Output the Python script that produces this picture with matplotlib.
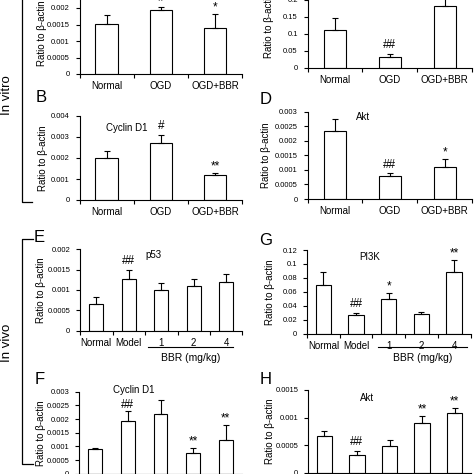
import matplotlib
matplotlib.use("Agg")
import matplotlib.pyplot as plt
import matplotlib.transforms as mtransforms
from matplotlib.lines import Line2D
from matplotlib.ticker import FormatStrFormatter
import numpy as np

plt.rcParams['font.family'] = ['Liberation Sans', 'DejaVu Sans']

# groups
vitro_groups = ["Normal", "OGD", "OGD+BBR"]
vivo_groups = ["Normal", "Model", "1", "2", "4"]

# in vitro (ratio to beta-actin), mean and upper error
a_mean = [0.00153, 0.00194, 0.00139]
a_err = [0.00025, 0.00010, 0.00043]
a_marks = ["", "#", "*"]

b_mean = [0.00199, 0.00273, 0.00119]
b_err = [0.00034, 0.00037, 0.00010]
b_marks = ["", "#", "**"]

c_mean = [0.111, 0.033, 0.181]
c_err = [0.034, 0.008, 0.035]
c_marks = ["", "##", ""]

d_mean = [0.00235, 0.00079, 0.00111]
d_err = [0.00039, 0.00009, 0.00026]
d_marks = ["", "##", "*"]

# in vivo
e_mean = [0.00066, 0.00127, 0.00100, 0.00111, 0.00119]
e_err = [0.00018, 0.00022, 0.00016, 0.00015, 0.00020]
e_marks = ["", "##", "", "", ""]

g_mean = [0.070, 0.027, 0.0496, 0.029, 0.088]
g_err = [0.018, 0.003, 0.009, 0.002, 0.018]
g_marks = ["", "##", "*", "", "**"]

f_mean = [0.00089, 0.00193, 0.00217, 0.00077, 0.00123]
f_err = [0.00004, 0.00038, 0.00053, 0.00018, 0.00055]
f_marks = ["", "##", "", "**", "**"]

h_mean = [0.000665, 0.00032, 0.00049, 0.000895, 0.00108]
h_err = [0.00009, 0.00007, 0.00011, 0.00013, 0.00010]
h_marks = ["", "##", "", "**", "**"]

W = 474
H = 474
fig = plt.figure(figsize=(W / 100, H / 100), dpi=100)
fig.patch.set_facecolor("white")


def px_axes(left, right, bottom, top):
    return fig.add_axes([left / W, 1 - bottom / H, (right - left) / W, (bottom - top) / H])


def ftext(x, y, s, **kw):
    fig.text(x / W, 1 - y / H, s, **kw)


def fline(xs, ys):
    fig.add_artist(Line2D([x / W for x in xs], [1 - y / H for y in ys],
                          color="black", lw=0.9))


def panel(ax, groups, mean, err, marks, ymax, ystep, width, title=None, title_pos=None,
          bbr=None, hash_off=2):
    n = len(groups)
    x = np.arange(n)
    ax.bar(x, mean, width, color="white", edgecolor="black", linewidth=0.8,
           yerr=[np.zeros(n), err],
           error_kw=dict(ecolor="black", elinewidth=0.8, capsize=2.5, capthick=0.8),
           zorder=2)
    ax.set_xlim(-0.5, n - 0.5)
    ax.set_ylim(0, ymax)
    ax.set_yticks(np.arange(0, ymax + ystep / 2, ystep))
    ax.yaxis.set_major_formatter(FormatStrFormatter('%g'))
    ax.set_xticks(np.arange(n + 1) - 0.5)
    ax.set_xticklabels([])
    ax.set_xticks(x, minor=True)
    ax.set_xticklabels(groups, minor=True)
    ax.tick_params(axis="x", which="minor", length=0, pad=5, labelsize=7)
    ax.tick_params(axis="x", which="major", length=3, width=0.8)
    ax.tick_params(axis="y", length=3, width=0.8, pad=4, labelsize=5.5)
    for s in ["top", "right"]:
        ax.spines[s].set_visible(False)
    for s in ["left", "bottom"]:
        ax.spines[s].set_linewidth(0.8)
    for i in range(n):
        if marks[i]:
            off = hash_off if "#" in marks[i] else 0.5
            ax.annotate(marks[i], xy=(i, mean[i] + err[i]), xytext=(0, off),
                        textcoords="offset points", ha="center", va="bottom",
                        fontsize=8.5, annotation_clip=False)
    if title:
        ax.text(title_pos[0], title_pos[1], title, transform=ax.transAxes,
                ha="center", va="center", fontsize=7)
    if bbr:
        x0, x1, dl, dt = bbr
        tl = mtransforms.offset_copy(ax.get_xaxis_transform(), fig=fig, y=-dl, units="dots")
        tt = mtransforms.offset_copy(ax.get_xaxis_transform(), fig=fig, y=-dt, units="dots")
        ax.plot([x0, x1], [0, 0], color="black", lw=0.8, transform=tl, clip_on=False)
        ax.text((x0 + x1) / 2, 0, "BBR (mg/kg)", transform=tt, ha="center", va="center",
                fontsize=7.5)


axA = px_axes(79.5, 242, 74, -8.5)
panel(axA, vitro_groups, a_mean, a_err, a_marks, 0.0025, 0.0005, 0.41)

axB = px_axes(79.5, 242, 200, 116)
panel(axB, vitro_groups, b_mean, b_err, b_marks, 0.004, 0.001, 0.41,
      "Cyclin D1", (0.29, 0.857))

axC = px_axes(307.5, 472, 68, -17.5)
panel(axC, vitro_groups, c_mean, c_err, c_marks, 0.25, 0.05, 0.40)

axD = px_axes(307.5, 472, 199, 111.7)
panel(axD, vitro_groups, d_mean, d_err, d_marks, 0.003, 0.0005, 0.40,
      "Akt", (0.337, 0.94))

axE = px_axes(80, 242.5, 330.7, 249.3)
panel(axE, vivo_groups, e_mean, e_err, e_marks, 0.002, 0.0005, 0.42,
      "p53", (0.455, 0.93), bbr=(1.6, 4.2, 16, 27))

axG = px_axes(307, 470.5, 334, 250)
panel(axG, vivo_groups, g_mean, g_err, g_marks, 0.12, 0.02, 0.47,
      "PI3K", (0.385, 0.917), bbr=(1.67, 4.39, 13, 24))

axF = px_axes(79, 242, 473.7, 391.7)
panel(axF, vivo_groups, f_mean, f_err, f_marks, 0.003, 0.0005, 0.42,
      "Cyclin D1", (0.337, 1.015), bbr=(1.6, 4.2, 16, 27), hash_off=0)

axH = px_axes(308, 471, 472.7, 390)
panel(axH, vivo_groups, h_mean, h_err, h_marks, 0.0015, 0.0005, 0.47,
      "Akt", (0.362, 0.905), bbr=(1.67, 4.39, 13, 24))

# y labels
for (x, y) in [(42, 33), (43, 158), (269, 25), (266, 155),
               (41, 290), (270, 292), (41, 433), (270, 431)]:
    ftext(x, y, "Ratio to β-actin", rotation=90, ha="center", va="center", fontsize=7)

# panel letters
for (x, y, s) in [(41, 97, "B"), (266, 100, "D"), (39, 238, "E"),
                  (266, 240, "G"), (40, 380, "F"), (266, 379, "H")]:
    ftext(x, y, s, ha="center", va="center", fontsize=12)

# side brackets
fline([22, 22, 32], [-5, 201.7, 201.7])
fline([33, 22, 22, 33], [239, 239, 464, 464])
ftext(7.5, 95, "In vitro", rotation=90, ha="center", va="center", fontsize=9.5)
ftext(7.5, 343, "In vivo", rotation=90, ha="center", va="center", fontsize=9.5)

fig.savefig("out.png", dpi=100)
